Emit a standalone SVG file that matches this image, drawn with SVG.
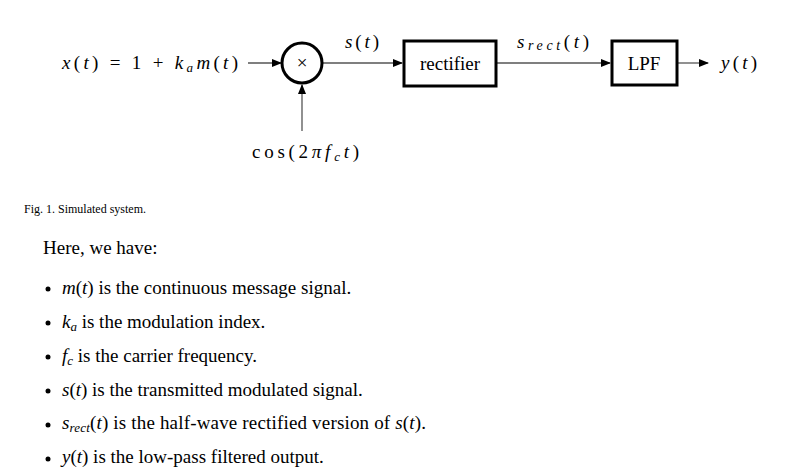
<svg xmlns="http://www.w3.org/2000/svg" width="789" height="473" viewBox="0 0 789 473">
<style>
.m{font-family:"Liberation Serif","DejaVu Serif",serif;font-size:19px;fill:#000}
.i{font-style:italic}
.b{fill:#fff;stroke:#000;stroke-width:3}
.c{stroke:#555;stroke-width:1.3;fill:none}
.t{font-family:"Liberation Serif",serif;fill:#000}
</style>
<defs><marker id="a" markerWidth="10" markerHeight="8" refX="9" refY="4" orient="auto" markerUnits="userSpaceOnUse"><path d="M0,0L10,4L0,8z" fill="#000"/></marker></defs>
<rect width="789" height="473" fill="#fff"/>
<g id="connectors">
<line class="c" x1="248" y1="63" x2="281" y2="63" marker-end="url(#a)"/>
<line class="c" x1="302" y1="131" x2="302" y2="85" marker-end="url(#a)"/>
<line class="c" x1="323" y1="63" x2="402" y2="63" marker-end="url(#a)"/>
<line class="c" x1="497" y1="63" x2="610" y2="63" marker-end="url(#a)"/>
<line class="c" x1="678" y1="63" x2="708" y2="63" marker-end="url(#a)"/>
</g>
<g id="input"><text class="m" x="62" y="69" textLength="176" lengthAdjust="spacing"><tspan class="i">x</tspan>(<tspan class="i">t</tspan>) = 1 + <tspan class="i">k</tspan><tspan class="i" font-size="13" dy="3">a</tspan><tspan class="i" dy="-3">m</tspan>(<tspan class="i">t</tspan>)</text></g>
<g id="mult"><circle cx="302" cy="63" r="20" fill="#fff" stroke="#000" stroke-width="3"/><text class="m" x="302" y="69" text-anchor="middle" font-size="17">×</text></g>
<g id="cos"><text class="m" x="252" y="158" textLength="107" lengthAdjust="spacing">cos(2<tspan class="i">πf</tspan><tspan class="i" font-size="13" dy="3">c</tspan><tspan class="i" dy="-3">t</tspan>)</text></g>
<g id="st"><text class="m" x="345" y="48" textLength="34" lengthAdjust="spacing"><tspan class="i">s</tspan>(<tspan class="i">t</tspan>)</text></g>
<g id="rectifier"><rect class="b" x="404" y="41" width="92" height="45"/><text class="m" x="450" y="70" text-anchor="middle">rectifier</text></g>
<g id="srect"><text class="m" x="517" y="48" textLength="72" lengthAdjust="spacing"><tspan class="i">s</tspan><tspan class="i" font-size="14" dy="2">rect</tspan><tspan dy="-2">(</tspan><tspan class="i">t</tspan>)</text></g>
<g id="lpf"><rect class="b" x="612" y="41" width="65" height="44"/><text class="m" x="644" y="70" text-anchor="middle">LPF</text></g>
<g id="yt"><text class="m" x="721" y="69" textLength="36" lengthAdjust="spacing"><tspan class="i">y</tspan>(<tspan class="i">t</tspan>)</text></g>
<text class="t" x="24" y="213" font-size="12">Fig. 1. Simulated system.</text>
<text class="t" x="43" y="254" font-size="19">Here, we have:</text>
<g class="t" font-size="19">
<circle cx="48" cy="289" r="2.5"/><text x="62" y="294"><tspan font-style="italic">m</tspan>(<tspan font-style="italic">t</tspan>) is the continuous message signal.</text>
<circle cx="48" cy="323" r="2.5"/><text x="62" y="328"><tspan font-style="italic">k</tspan><tspan font-style="italic" font-size="13" dy="3">a</tspan><tspan dy="-3"> is the modulation index.</tspan></text>
<circle cx="48" cy="357" r="2.5"/><text x="62" y="362"><tspan font-style="italic">f</tspan><tspan font-style="italic" font-size="13" dy="3">c</tspan><tspan dy="-3"> is the carrier frequency.</tspan></text>
<circle cx="48" cy="391" r="2.5"/><text x="62" y="396"><tspan font-style="italic">s</tspan>(<tspan font-style="italic">t</tspan>) is the transmitted modulated signal.</text>
<circle cx="48" cy="425" r="2.5"/><text x="62" y="429" textLength="364" lengthAdjust="spacing"><tspan font-style="italic">s</tspan><tspan font-style="italic" font-size="13" dy="3">rect</tspan><tspan dy="-3">(</tspan><tspan font-style="italic">t</tspan>) is the half-wave rectified version of <tspan font-style="italic">s</tspan>(<tspan font-style="italic">t</tspan>).</text>
<circle cx="48" cy="459" r="2.5"/><text x="62" y="463"><tspan font-style="italic">y</tspan>(<tspan font-style="italic">t</tspan>) is the low-pass filtered output.</text>
</g>
</svg>
